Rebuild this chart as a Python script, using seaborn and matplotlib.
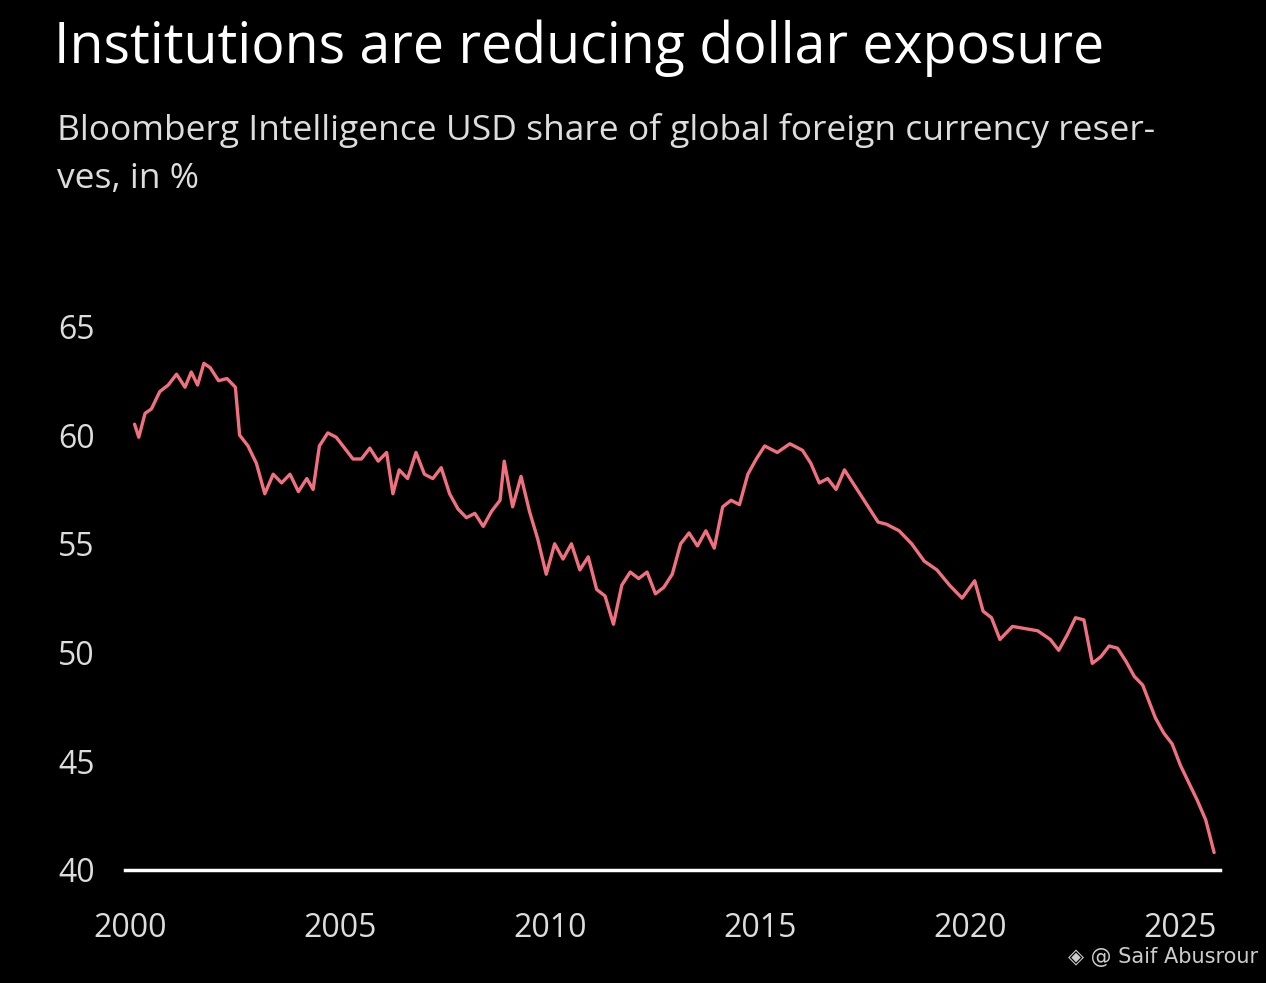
import pandas as pd
import matplotlib
matplotlib.use("Agg")
import matplotlib.pyplot as plt
import seaborn as sns

# Data
years = [2000.1, 2000.2, 2000.35, 2000.5, 2000.7, 2000.9, 2001.1, 2001.3, 2001.45, 2001.6, 2001.75, 2001.9,
         2002.1, 2002.3, 2002.5, 2002.6, 2002.8, 2003.0, 2003.2, 2003.4, 2003.6, 2003.8, 2004.0, 2004.2,
         2004.35, 2004.5, 2004.7, 2004.9, 2005.1, 2005.3, 2005.5, 2005.7, 2005.9, 2006.1, 2006.25, 2006.4,
         2006.6, 2006.8, 2007.0, 2007.2, 2007.4, 2007.6, 2007.8, 2008.0, 2008.2, 2008.4, 2008.6, 2008.8,
         2008.9, 2009.1, 2009.3, 2009.5, 2009.7, 2009.9, 2010.1, 2010.3, 2010.5, 2010.7, 2010.9, 2011.1,
         2011.3, 2011.5, 2011.7, 2011.9, 2012.1, 2012.3, 2012.5, 2012.7, 2012.9, 2013.1, 2013.3, 2013.5,
         2013.7, 2013.9, 2014.1, 2014.3, 2014.5, 2014.7, 2014.9, 2015.1, 2015.4, 2015.7, 2016.0, 2016.2,
         2016.4, 2016.6, 2016.8, 2017.0, 2017.2, 2017.4, 2017.6, 2017.8, 2018.0, 2018.3, 2018.6, 2018.9,
         2019.2, 2019.5, 2019.8, 2020.1, 2020.3, 2020.5, 2020.7, 2021.0, 2021.3, 2021.6, 2021.9, 2022.1,
         2022.3, 2022.5, 2022.7, 2022.9, 2023.1, 2023.3, 2023.5, 2023.7, 2023.9, 2024.1, 2024.4, 2024.6,
         2024.8, 2025.0, 2025.2, 2025.4, 2025.6, 2025.8]
usd_share = [60.5, 59.9, 61.0, 61.2, 62.0, 62.3, 62.8, 62.2, 62.9, 62.3, 63.3, 63.1,
             62.5, 62.6, 62.2, 60.0, 59.5, 58.7, 57.3, 58.2, 57.8, 58.2, 57.4, 58.0,
             57.5, 59.5, 60.1, 59.9, 59.4, 58.9, 58.9, 59.4, 58.8, 59.2, 57.3, 58.4,
             58.0, 59.2, 58.2, 58.0, 58.5, 57.3, 56.6, 56.2, 56.4, 55.8, 56.5, 57.0,
             58.8, 56.7, 58.1, 56.5, 55.2, 53.6, 55.0, 54.3, 55.0, 53.8, 54.4, 52.9,
             52.6, 51.3, 53.1, 53.7, 53.4, 53.7, 52.7, 53.0, 53.6, 55.0, 55.5, 54.9,
             55.6, 54.8, 56.7, 57.0, 56.8, 58.2, 58.9, 59.5, 59.2, 59.6, 59.3, 58.7,
             57.8, 58.0, 57.5, 58.4, 57.8, 57.2, 56.6, 56.0, 55.9, 55.6, 55.0, 54.2,
             53.8, 53.1, 52.5, 53.3, 51.9, 51.6, 50.6, 51.2, 51.1, 51.0, 50.6, 50.1,
             50.8, 51.6, 51.5, 49.5, 49.8, 50.3, 50.2, 49.6, 48.9, 48.5, 47.0, 46.3,
             45.8, 44.8, 44.0, 43.2, 42.3, 40.8]

df = pd.DataFrame({"year": years, "share": usd_share})

sns.set_style("dark")
plt.rcParams["font.family"] = ["Open Sans", "DejaVu Sans"]

fig = plt.figure(figsize=(12.66, 9.83), dpi=100, facecolor="black")
ax = fig.add_axes([0.099, 0.115, 0.865, 0.553])
ax.set_facecolor("black")

sns.lineplot(data=df, x="year", y="share", color="#f07080", linewidth=2.4, ax=ax)

ax.set_ylim(40, 65)
ax.set_xlim(1999.88, 2025.95)
ax.set_xticks([2000, 2005, 2010, 2015, 2020, 2025])
ax.set_yticks([40, 45, 50, 55, 60, 65])
ax.tick_params(colors="#dddddd", labelsize=23, length=0)
ax.tick_params(axis="x", pad=30)
ax.tick_params(axis="y", pad=22)
ax.grid(False)
ax.set_xlabel("")
ax.set_ylabel("")
for s in ["top", "right", "left"]:
    ax.spines[s].set_visible(False)
ax.spines["bottom"].set_color("white")
ax.spines["bottom"].set_linewidth(2.5)

fig.text(0.043, 0.98, "Institutions are reducing dollar exposure", color="white",
         fontsize=40, va="top")
fig.text(0.045, 0.885, "Bloomberg Intelligence USD share of global foreign currency reser-\nves, in %",
         color="#dddddd", fontsize=25.5, va="top", linespacing=1.55)
fig.text(0.994, 0.016, "\u25c8 @ Saif Abusrour", color="#cccccc", fontsize=15, ha="right", va="bottom",
         family=["DejaVu Sans"])

fig.savefig("out.png", dpi=100, facecolor="black")
